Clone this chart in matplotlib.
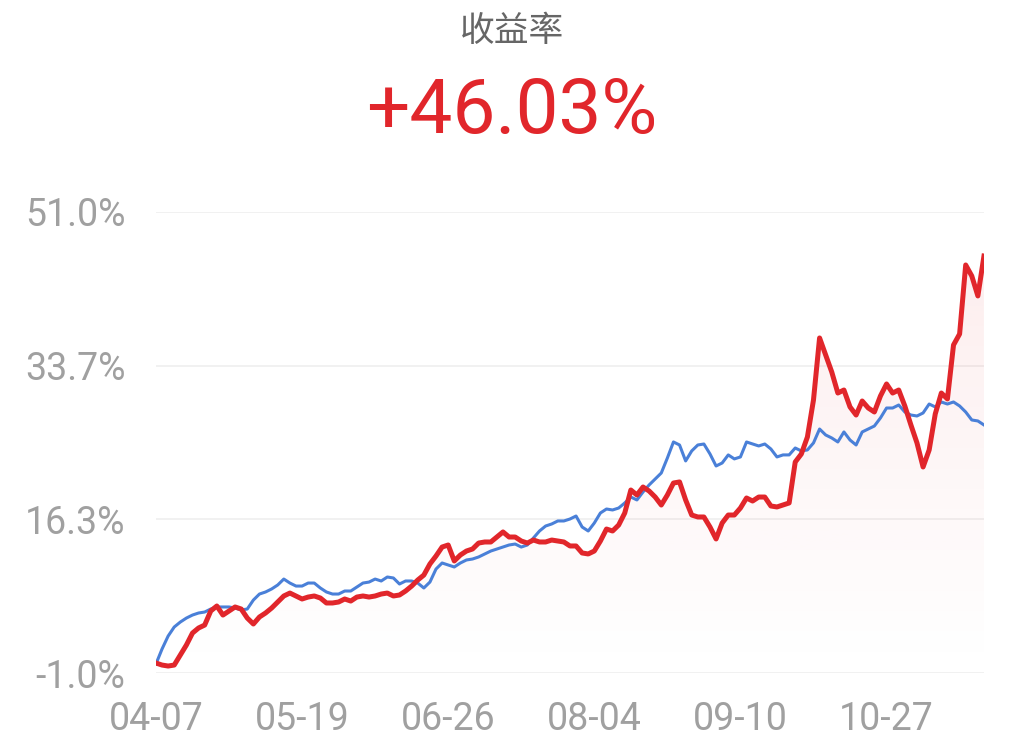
import numpy as np
import matplotlib.pyplot as plt
from matplotlib.colors import to_rgb
from matplotlib.patches import PathPatch

# 收益率曲线（%），红=本产品，蓝=基准
red_vals = [0.13, -0.10, -0.21, -0.10, 1.03, 2.16, 3.51, 4.08, 4.41, 6.00,
            6.56, 5.54, 6.00, 6.45, 6.22, 5.20, 4.53, 5.32, 5.77, 6.33,
            7.01, 7.69, 8.02, 7.69, 7.35, 7.57, 7.69, 7.46, 6.90, 6.90,
            7.01, 7.35, 7.12, 7.57, 7.69, 7.57, 7.69, 7.91, 8.02, 7.69,
            7.80, 8.25, 8.81, 9.49, 10.05, 11.30, 12.20, 13.21, 13.44, 11.64,
            12.31, 12.76, 12.99, 13.66, 13.78, 13.78, 14.34, 14.91, 14.34, 14.34,
            13.89, 13.66, 14.00, 13.78, 13.78, 14.00, 13.89, 13.78, 13.33, 13.33,
            12.54, 12.43, 12.76, 13.89, 15.24, 15.02, 15.69, 17.05, 19.64, 19.08,
            19.98, 19.53, 18.85, 17.95, 19.08, 20.43, 20.55, 18.52, 16.82, 16.60,
            16.60, 15.47, 14.12, 15.92, 16.82, 16.82, 17.61, 18.74, 18.40, 18.85,
            18.85, 17.84, 17.73, 17.95, 18.18, 22.80, 23.70, 25.62, 29.80, 36.79,
            34.87, 32.95, 30.58, 30.92, 29.01, 28.10, 29.68, 28.89, 28.44, 30.25,
            31.60, 30.58, 30.92, 29.12, 26.98, 24.95, 22.24, 24.16, 28.22, 30.58,
            29.91, 36.00, 37.24, 45.02, 43.78, 41.53, 46.03]

blue_vals = [0.02, 1.71, 3.17, 4.19, 4.75, 5.20, 5.54, 5.77, 5.88, 6.22,
             6.45, 6.45, 6.45, 6.33, 6.11, 6.22, 7.23, 7.91, 8.14, 8.48,
             8.93, 9.60, 9.15, 8.81, 8.81, 9.15, 9.15, 8.59, 8.14, 7.91,
             7.91, 8.25, 8.25, 8.70, 9.15, 9.26, 9.60, 9.38, 9.83, 9.72,
             9.04, 9.38, 9.38, 9.15, 8.59, 9.26, 10.73, 11.41, 11.18, 10.96,
             11.41, 11.75, 11.86, 12.09, 12.43, 12.76, 12.99, 13.21, 13.44, 13.55,
             13.21, 13.44, 14.23, 15.02, 15.58, 15.81, 16.15, 16.15, 16.37, 16.71,
             15.47, 15.02, 15.92, 17.05, 17.50, 17.39, 17.61, 18.18, 18.85, 18.52,
             19.42, 20.21, 20.88, 21.56, 23.25, 25.06, 24.72, 22.92, 24.05, 24.72,
             24.83, 23.71, 22.35, 22.69, 23.60, 23.15, 23.37, 25.06, 24.83, 24.61,
             24.83, 24.27, 23.37, 23.60, 23.60, 24.38, 24.05, 24.16, 24.95, 26.52,
             25.85, 25.51, 25.06, 26.19, 25.28, 24.72, 26.19, 26.52, 26.86, 27.77,
             28.89, 28.89, 29.23, 28.44, 28.10, 27.99, 28.33, 29.34, 29.01, 29.57,
             29.34, 29.57, 29.12, 28.44, 27.54, 27.43, 26.98]

x_labels = ['04-07', '05-19', '06-26', '08-04', '09-10', '10-27']
label_step = 24
y_ticks = [-1.0, 16.33, 33.67, 51.0]
y_labels = ['-1.0%', '16.3%', '33.7%', '51.0%']

RED = '#e1262b'
BLUE = '#4a80d8'
GRAY = '#a0a0a0'

fig = plt.figure(figsize=(10.24, 7.53), dpi=100)
ax = fig.add_axes([0.1523, 0.1062, 0.8086, 0.6123])

x = np.arange(len(red_vals))
n = len(red_vals) - 1

# 红线下方渐变填充
poly = ax.fill_between(x, red_vals, -1, color='none', lw=0)
patch = PathPatch(poly.get_paths()[0], transform=ax.transData,
                  facecolor='none', edgecolor='none')
ax.add_patch(patch)
grad = np.zeros((256, 1, 4))
grad[..., :3] = to_rgb(RED)
grad[..., 3] = np.linspace(0.0, 0.08, 256)[:, None]
im = ax.imshow(grad, extent=[0, n, -1, max(red_vals)], origin='lower',
               aspect='auto', zorder=1)
im.set_clip_path(patch)

ax.plot(x, blue_vals, color=BLUE, lw=2.2, zorder=3, solid_joinstyle='round')
ax.plot(x, red_vals, color=RED, lw=3.6, zorder=4, solid_joinstyle='round')

ax.set_xlim(0, n)
ax.set_ylim(-1, 51)
ax.set_xticks(x[::label_step])
ax.set_xticklabels(x_labels)
ax.set_yticks(y_ticks)
ax.set_yticklabels(y_labels)
for lab in ax.get_xticklabels() + ax.get_yticklabels():
    lab.set_family('Roboto')
    lab.set_fontsize(27)
    lab.set_color(GRAY)
ax.tick_params(axis='x', length=0, pad=20)
ax.tick_params(axis='y', length=0, pad=22)
ax.grid(axis='y', color='#efefef', lw=1.2)
ax.set_axisbelow(True)
for s in ax.spines.values():
    s.set_visible(False)

fig.text(0.5, 1 - 32 / 753, '收益率', ha='center', va='center',
         fontsize=25, color='#666666', family=['Noto Sans CJK SC', 'DejaVu Sans'])
fig.text(0.5, 1 - 113 / 753, '+46.03%', ha='center', va='center',
         fontsize=55, color=RED, family='Roboto')

fig.savefig('out.png', dpi=100)
